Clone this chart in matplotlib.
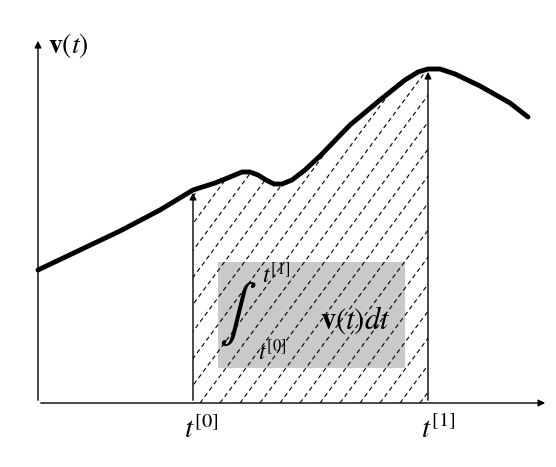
import matplotlib
matplotlib.use("Agg")
import matplotlib.pyplot as plt
import numpy as np
from matplotlib.patches import Polygon, Rectangle

plt.rcParams['mathtext.fontset'] = 'stix'

curve_x = [38,80,120,160,193,215,230,242,250,258,266,274,282,292,305,320,350,380,405,418,428,440,455,480,510,528]
curve_y = [270,250,231,210,190,183,177,172,172,175,180,184,184,180,170,156,125,100,80,72,69,69,74,86,103,117]
t0_x, t1_x = 193, 428
base_y = 403

fig = plt.figure(figsize=(5.56,4.67), dpi=100)
ax = fig.add_axes([0,0,1,1])
ax.set_xlim(0,556); ax.set_ylim(467,0); ax.axis('off')

cx = np.array(curve_x, float); cy = np.array(curve_y, float)
mask = (cx > t0_x) & (cx < t1_x)
px = [t0_x] + list(cx[mask]) + [t1_x, t1_x, t0_x]
py = [np.interp(t0_x, cx, cy)] + list(cy[mask]) + [np.interp(t1_x, cx, cy), base_y, base_y]
poly = Polygon(list(zip(px, py)), closed=True, facecolor='none', edgecolor='none')
ax.add_patch(poly)

ax.add_patch(Rectangle((218,262), 187, 106, facecolor='#c9c9c9', edgecolor='none', zorder=1))

for off in np.arange(-400, 700, 20):
    xs = np.array([off, off+500]); ys = np.array([base_y, base_y-500*1.35])
    ln, = ax.plot(xs, ys, color='black', lw=0.8, ls=(0,(4,3)), zorder=2)
    ln.set_clip_path(poly)

ax.plot(cx, cy, color='black', lw=3.5, solid_capstyle='round', solid_joinstyle='round', zorder=4)

ap = dict(arrowstyle='-|>', color='black', lw=1, mutation_scale=10)
ax.annotate('', xy=(38,38), xytext=(38,base_y), arrowprops=ap)
ax.annotate('', xy=(548,base_y), xytext=(38,base_y), arrowprops=ap)
ax.annotate('', xy=(t0_x, np.interp(t0_x,cx,cy)), xytext=(t0_x,base_y), arrowprops=ap)
ax.annotate('', xy=(t1_x, np.interp(t1_x,cx,cy)), xytext=(t1_x,base_y), arrowprops=ap)

ax.text(48, 45, r'$\mathbf{v}(t)$', fontsize=20, va='center', ha='left')
ax.text(t0_x+8, 430, r'$t^{[0]}$', fontsize=21, va='center', ha='center')
ax.text(t1_x+10, 430, r'$t^{[1]}$', fontsize=21, va='center', ha='center')
ax.text(238, 314, r'$\int$', fontsize=40, va='center', ha='center', zorder=5)
ax.text(276, 275, r'$t^{[1]}$', fontsize=17, va='center', ha='center', zorder=5)
ax.text(272, 352, r'$t^{[0]}$', fontsize=17, va='center', ha='center', zorder=5)
ax.text(355, 320, r'$\mathbf{v}(t)dt$', fontsize=22, va='center', ha='center', zorder=5)

fig.savefig('out.png', dpi=100, facecolor='white')
